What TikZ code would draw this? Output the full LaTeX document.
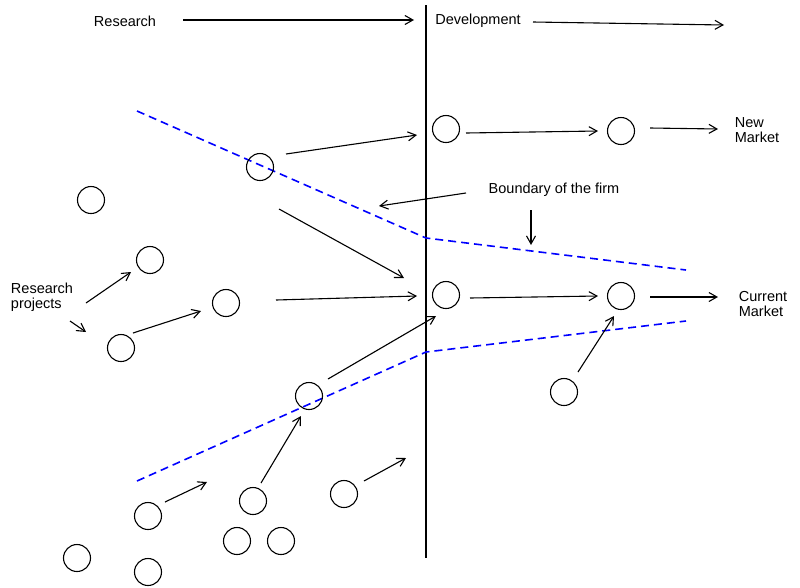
\documentclass[tikz,border=0pt]{standalone}
\usepackage{fontspec}
\setmainfont{Liberation Sans}
\usetikzlibrary{arrows.meta}
\begin{document}
\begin{tikzpicture}[x=1pt,y=-1pt,
  c/.style={circle,draw,line width=1.1pt,minimum size=27pt,inner sep=0pt},
  a/.style={line width=1.1pt,-{Straight Barb[length=8pt,width=9pt]}},
  b/.style={blue,line width=1.6pt,dash pattern=on 8pt off 5pt},
  t/.style={font=\fontsize{14.5}{15.5}\selectfont,align=left,inner sep=1pt}]
\useasboundingbox (0,0) rectangle (800,587);
\draw[line width=1.4pt] (426,5) -- (426,558);
\node[t] (res) at (125,21) {Research};
\node[t] (dev) at (478,21) {Development};
\coordinate (r1) at (183,20); \coordinate (r2) at (414,20);
\coordinate (d1) at (533,22); \coordinate (d2) at (724,25);
\draw[a] (r1) -- (r2); \draw[a] (d1) -- (d2);
\draw[b] (137,111) -- (426,238) -- (686,270);
\draw[b] (137,481) -- (426,352) -- (686,321);
\foreach \n/\x/\y in {c1/91/200,c2/150/260,c3/226/303,c4/121/348,c5/260/167,c6/446/129,c7/621/131,c8/446/295,c9/621/296,c10/309/396,c11/564/392,c12/148/516,c13/253/501,c14/344/494,c15/237/541,c16/281/541,c17/77/558,c18/148/572}
  \node[c] (\n) at (\x,\y) {};
\node[t] (nm) at (757,130) {New\\Market};
\node[t] (cm) at (763,304) {Current\\Market};
\node[t] (bf) at (554,190) {Boundary of the firm};
\node[t] (rp) at (42,297) {Research\\projects};
\foreach \a/\b/\c/\d in {286/154/417/135, 466/133/598/131, 650/128/718/129, 279/209/404/278, 276/300/417/296, 470/298/598/296, 650/297/718/297, 466/193/379/206, 531/210/531/245, 86/303/131/272, 70/321/86/332, 133/333/201/311, 328/379/436/316, 261/483/301/416, 165/502/207/482, 364/481/406/458, 578/372/614/316}
  \draw[a] (\a,\b) -- (\c,\d);
\end{tikzpicture}
\end{document}
